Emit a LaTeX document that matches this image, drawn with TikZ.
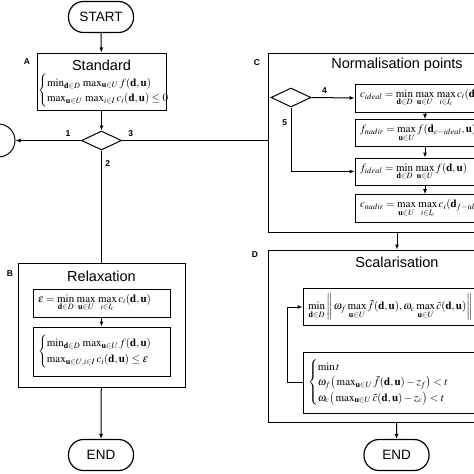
\documentclass[tikz,border=0pt]{standalone}
\usepackage{amsmath}
\usepackage{mathptmx}
\usepackage{fontspec}
\setmainfont{Liberation Serif}
\setsansfont{Liberation Sans}
\usetikzlibrary{shapes.geometric,arrows.meta}
\newcommand{\eqsize}{\fontsize{11}{13}\selectfont}
\begin{document}
\begin{tikzpicture}[x=1pt,y=-1pt]

\tikzstyle{box}=[rectangle, draw, line width=1pt, inner sep=0pt]
\tikzstyle{inbox}=[rectangle, draw, line width=0.8pt, inner sep=5pt, align=left, font=\eqsize]
\tikzstyle{term}=[rectangle, rounded corners=15pt, draw, line width=1.2pt, minimum width=65pt, minimum height=31pt, font=\fontsize{13.5}{16}\selectfont\sffamily]
\tikzstyle{cond}=[diamond, draw, line width=1pt, aspect=2, inner sep=0pt, minimum width=40pt, minimum height=19pt]
\tikzstyle{title}=[font=\fontsize{14.5}{17}\selectfont\sffamily]
\tikzstyle{tag}=[font=\fontsize{8.5}{10}\selectfont\sffamily\bfseries]
\tikzstyle{arrow}=[-{Latex[length=5pt,width=4pt]}, line width=1pt]
\tikzstyle{line}=[line width=1pt]

\clip (0,0) rectangle (474,474);

% left column
\node (S) [term] at (101,17) {START};
\node (A) [box, minimum width=129pt, minimum height=57pt] at (101.5,81.5) {};
\node (At) [title] at (101.5,65) {Standard};
\node (Af) [anchor=west, inner sep=0pt, font=\eqsize] at (38,91) {$\begin{cases}
      \min_{\mathbf{d}\in D}\, \max_{\mathbf{u}\in U} f(\mathbf{d},\mathbf{u}) \\
      \max_{\mathbf{u}\in U}\, \max_{i\in I} c_i(\mathbf{d},\mathbf{u}) \le 0
   \end{cases}$};
\node (lA) [tag] at (27,62) {A};

\node (Q) [cond] at (101.5,140.5) {};
\node (O) [circle, draw, line width=1pt, minimum size=33pt] at (-1.5,140.5) {};

\node (B) [box, minimum width=167pt, minimum height=124pt] at (101.5,325) {};
\node (Bt) [title] at (101.5,276) {Relaxation};
\node (lB) [tag] at (10,274) {B};
\node (B1) [inbox, text width=127pt, minimum height=26pt] at (101.5,303) {\mbox{$\epsilon = \min\limits_{\mathbf{d}\in D}\, \max\limits_{\mathbf{u}\in U}\, \max\limits_{i\in I_c} c_i(\mathbf{d},\mathbf{u})$}};
\node (B2) [inbox, text width=127pt, minimum height=49pt] at (101.5,351.5) {\mbox{$\begin{cases}
      \min_{\mathbf{d}\in D}\, \max_{\mathbf{u}\in U} f(\mathbf{d},\mathbf{u}) \\
      \max_{\mathbf{u}\in U, i\in I} c_i(\mathbf{d},\mathbf{u}) \le \epsilon
   \end{cases}$}};
\node (E1) [term] at (101,455) {END};

% right column
\node (C) [box, minimum width=258pt, minimum height=179pt] at (397,142.5) {};
\node (Ct) [title] at (397,65) {Normalisation points};
\node (lC) [tag] at (257,63) {C};
\node (P) [cond] at (291,97.5) {};
\node (C1) [inbox, text width=130pt, minimum height=26pt] at (425,98) {\mbox{$c_{ideal} = \min\limits_{\mathbf{d}\in D}\, \max\limits_{\mathbf{u}\in U}\, \max\limits_{i\in I_c} c_i(\mathbf{d},\mathbf{u})$}};
\node (C2) [inbox, text width=130pt, minimum height=22pt] at (425,133) {\mbox{$f_{nadir} = \max\limits_{\mathbf{u}\in U} f(\mathbf{d}_{c-ideal},\mathbf{u})$}};
\node (C3) [inbox, text width=130pt, minimum height=27pt] at (425,171.5) {\mbox{$f_{ideal} = \min\limits_{\mathbf{d}\in D}\, \max\limits_{\mathbf{u}\in U} f(\mathbf{d},\mathbf{u})$}};
\node (C4) [inbox, text width=130pt, minimum height=27pt] at (425,208.5) {\mbox{$c_{nadir} = \max\limits_{\mathbf{u}\in U}\, \max\limits_{i\in I_c} c_i(\mathbf{d}_{f-ideal},\mathbf{u})$}};

\node (D) [box, minimum width=258pt, minimum height=172pt] at (397,336) {};
\node (Dt) [title] at (397,262) {Scalarisation};
\node (lD) [tag] at (255,255) {D};
\node (D1) [inbox, text width=178pt, minimum height=32pt] at (397,307) {\mbox{$\min\limits_{\mathbf{d}\in D} \left\| \,\omega_f \max\limits_{\mathbf{u}\in U}\tilde{f}(\mathbf{d},\mathbf{u}), \omega_c \max\limits_{\mathbf{u}\in U}\tilde{c}(\mathbf{d},\mathbf{u}) \right\|$}};
\node (D2) [inbox, text width=178pt, minimum height=61pt] at (397,382.5) {\mbox{$\begin{cases}
      \min t \\
      \omega_f\big(\max_{\mathbf{u}\in U}\tilde{f}(\mathbf{d},\mathbf{u}) - z_f\big) < t \\
      \omega_c\big(\max_{\mathbf{u}\in U}\tilde{c}(\mathbf{d},\mathbf{u}) - z_c\big) < t
   \end{cases}$}};
\node (E2) [term] at (396.5,455) {END};

% connectors
\draw [arrow] (S) -- (A);
\draw [arrow] (A) -- (Q);
\draw [arrow] (Q.west) -- node[tag, pos=0.2, above] {1} (O.east);
\draw [line] (Q.south) -- node[tag, pos=0.12, right] {2} (Q.south |- B.north);
\draw [line] (Q.east) -- node[tag, pos=0.06, above] {3} (Q.east -| C.west);
\draw [arrow] (B1) -- (B2);
\draw [arrow] (B) -- (E1);

\draw [arrow] (P.east) -- node[tag, pos=0.3, above] {4} (C1.west);
\draw [arrow] (P.south) |- node[tag, pos=0.12, left] {5} (C3.west);
\draw [arrow] (C1) -- (C2);
\draw [arrow] (C2) -- (C3);
\draw [arrow] (C3) -- (C4);
\draw [arrow] (C) -- (D);
\draw [arrow] (D2.west) -- ++(-15,0) |- (D1.west);
\draw [arrow] (D) -- (E2);

\end{tikzpicture}
\end{document}
